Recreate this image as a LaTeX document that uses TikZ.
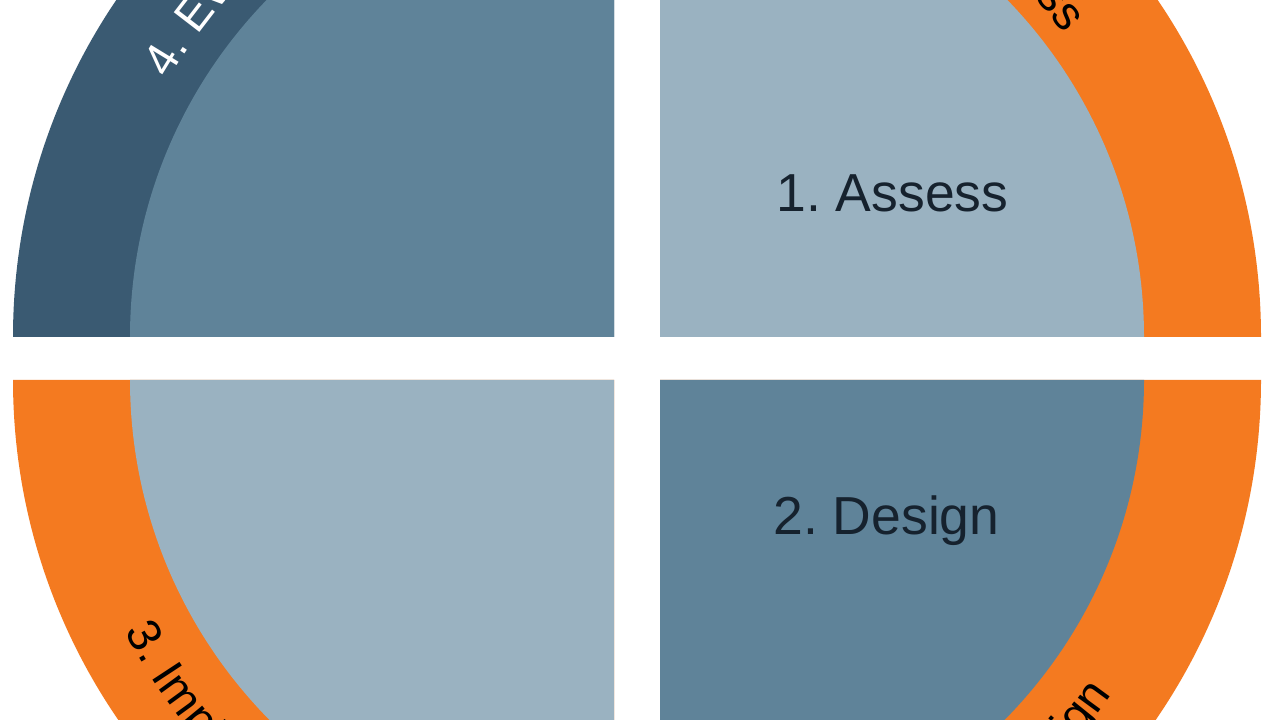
\documentclass[tikz,border=0pt]{standalone}
\usepackage{fontspec}
\setmainfont{Liberation Sans}
\usetikzlibrary{decorations.text}
\frenchspacing
\definecolor{ringdark}{HTML}{3A5A72}
\definecolor{midblue}{HTML}{5F8399}
\definecolor{lightblue}{HTML}{9AB2C1}
\definecolor{ringorange}{HTML}{F47A20}
\definecolor{textdark}{HTML}{16222E}
\tikzset{
  centerlabel/.style={font=\fontsize{53.5}{60}\selectfont, text=textdark, inner sep=0pt, anchor=base},
}
\newcommand{\quarter}[5]{% center, start angle, end angle, ring color, inner color
  \fill[#4] #1 -- ++(#2:601) arc[start angle=#2, end angle=#3, radius=601] -- cycle;
  \fill[#5] #1 -- ++(#2:484) arc[start angle=#2, end angle=#3, radius=484] -- cycle;
}
\begin{document}
\begin{tikzpicture}[x=1pt,y=1pt]
\useasboundingbox (0,0) rectangle (1280,720);
\clip (0,0) rectangle (1280,720);
\fill[white] (0,0) rectangle (1280,720);
\coordinate (cTL) at (614,383);
\coordinate (cTR) at (660,383);
\coordinate (cBL) at (614,340);
\coordinate (cBR) at (660,340);
% quadrants
\quarter{(cTL)}{90}{180}{ringdark}{midblue}
\quarter{(cTR)}{0}{90}{ringorange}{lightblue}
\quarter{(cBL)}{180}{270}{ringorange}{lightblue}
\quarter{(cBR)}{270}{360}{ringorange}{midblue}
% ring labels
\path[decorate, decoration={text along path, text align=left,
  text={|\fontsize{47}{47}\selectfont\color{white}|4. Evaluate}}]
  (cTL) ++(150:514) arc[start angle=150, end angle=95, radius=514];
\path[decorate, decoration={text along path, text align=left,
  text={|\fontsize{47}{47}\selectfont\color{black}|1. Assess}}]
  (cTR) ++(60:505) arc[start angle=60, end angle=10, radius=505];
\path[decorate, decoration={text along path, text align=left,
  text={|\fontsize{47}{47}\selectfont\color{black}|3. Implement}}]
  (cBL) ++(207.2:550) arc[start angle=207.2, end angle=262, radius=550];
\path[decorate, decoration={text along path, text align=left,
  text={|\fontsize{47}{47}\selectfont\color{black}|2. Design}}]
  (cBR) ++(-55.5:550) arc[start angle=-55.5, end angle=-15, radius=550];
% centre labels
\node[centerlabel] (assess) at (892.5,508) {1. Assess};
\node[centerlabel] (design) at (886.5,185) {2. Design};
\end{tikzpicture}
\end{document}
